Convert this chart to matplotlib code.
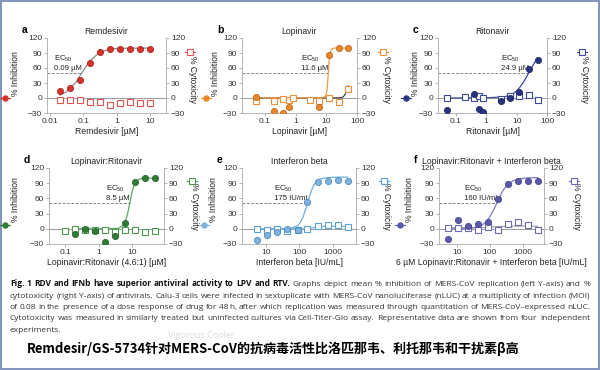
import matplotlib
matplotlib.use('Agg')
import matplotlib.pyplot as plt
from matplotlib.lines import Line2D
from matplotlib.patches import Rectangle
from matplotlib.ticker import FixedLocator, NullLocator

W, H = 600, 370

plt.rcParams['font.family'] = 'Liberation Sans'
plt.rcParams['mathtext.fontset'] = 'custom'
plt.rcParams['mathtext.rm'] = 'Liberation Sans'
plt.rcParams['mathtext.it'] = 'Liberation Sans:italic'

# ---------------- data ----------------
# a  Remdesivir
rdv_conc = [0.0195, 0.039, 0.078, 0.156, 0.3125, 0.625, 1.25, 2.5, 5, 10]
rdv_inh = [15, 21, 37, 71, 93, 98, 99, 99, 99, 99]
rdv_cyt = [-3, -3, -4, -8, -7, -14, -10, -8, -10, -10]
rdv_fit_x = [0.02, 0.03, 0.04, 0.06, 0.08, 0.1, 0.13, 0.17, 0.22, 0.3, 0.4, 0.6, 1, 2, 10]
rdv_fit_y = [6, 12, 19, 32, 45, 55, 66, 76, 83, 90, 94, 97, 99, 99.6, 100]

# b  Lopinavir
lpv_inh_conc = [0.05, 0.2, 0.4, 0.6, 6, 12, 25, 50]
lpv_inh = [2, -25, -29, -18, -17, 86, 100, 100]
lpv_cyt_conc = [0.05, 0.2, 0.4, 0.6, 0.8, 3, 6, 12, 25, 50]
lpv_cyt = [-5, -5, -1, -3, 0, -3, -5, 0, -8, 18]
lpv_fit_x = [0.05, 1, 8, 9.5, 10.5, 11.2, 11.6, 12, 12.8, 14, 16, 20, 50]
lpv_fit_y = [0, 0, 0.5, 4, 15, 35, 50, 64, 83, 95, 99, 100, 100]
lpv_cfit_x = [0.05, 10, 30, 35, 40, 45, 50]
lpv_cfit_y = [0, 0, 0.5, 2, 6, 13, 24]

# c  Ritonavir
rtv_inh_conc = [0.05, 0.4, 0.6, 0.8, 3, 6, 12, 25, 50]
rtv_inh = [-23, 8, -21, -28, -5, 0, 13, 58, 76]
rtv_cyt_conc = [0.05, 0.2, 0.4, 0.6, 0.8, 3, 6, 12, 25, 50]
rtv_cyt = [0, 2, 0, 4, 1, -1, 4, 4, 6, -3]
rtv_fit_x = [0.05, 1, 4, 6, 8, 10, 13, 17, 22, 25, 30, 40, 50]
rtv_fit_y = [0, 0.2, 2.5, 5.5, 9.4, 14, 22, 32, 44, 50, 59, 72, 80]

# d  Lopinavir:Ritonavir
lr_inh_conc = [0.2, 0.4, 0.8, 1.6, 3.1, 6.3, 12.5, 25, 50]
lr_inh = [-10, 0, -5, -26, -15, 12, 92, 101, 101]
lr_cyt_conc = [0.1, 0.2, 0.4, 0.8, 1.6, 3.1, 6.3, 12.5, 25, 50]
lr_cyt = [-5, 0, -3, -3, -3, -6, -2, -2, -6, -5]
lr_fit_x = [0.2, 1, 4, 5.5, 6.5, 7.5, 8.5, 9.5, 10.5, 12, 14, 18, 25, 50]
lr_fit_y = [0, 0, 1, 7, 17, 32, 50, 66, 78, 89, 95, 99, 100, 100]

# e  Interferon beta
ifn_conc = [5.5, 11, 22, 44, 88, 175, 350, 700, 1400, 2800]
ifn_inh = [-23, -12, -6, 0, -2, 53, 92, 94, 96, 94]
ifn_cyt = [0, -2, 0, -4, -2, 0, 5.5, 8, 7.5, 3]
ifn_fit_x = [5.5, 50, 90, 110, 130, 150, 175, 200, 230, 270, 330, 450, 700, 1500, 2800]
ifn_fit_y = [0, 0.3, 6, 14, 24, 36, 51, 63, 75, 86, 94, 99, 101, 102, 102]
ifn_cfit_x = [5.5, 100, 200, 300, 500, 1000, 2800]
ifn_cfit_y = [0, 0, 0.5, 3, 5, 5, 5]

# f  Lopinavir:Ritonavir + Interferon beta
combo_inh = [-21, 17, 5, 9, 14, 58, 89, 94, 94, 94]
combo_cyt = [2, 2, 2, -2, 4, -2, 9.5, 13, 7, -3]
combo_fit_x = [5.5, 20, 40, 60, 80, 100, 130, 160, 200, 250, 350, 500, 800, 1500, 2800]
combo_fit_y = [0, 0.5, 3, 8, 15, 24, 38, 50, 64, 76, 88, 95, 99, 100.5, 101]
combo_cfit_x = [5.5, 20, 80, 200, 600, 1500, 2800]
combo_cfit_y = [2, 2.2, 3, 4.5, 5.5, 5.5, 5]

y_ticks = [-30, 0, 30, 60, 90, 120]
ticks_um_a = [0.01, 0.1, 1, 10]
labels_um_a = ['0.01', '0.1', '1', '10']
ticks_um = [0.1, 1, 10, 100]
labels_um = ['0.1', '1', '10', '100']
ticks_iu = [10, 100, 1000]
labels_iu = ['10', '100', '1000']

caption_lines = [
    [("Fig. 1 RDV and IFNb have superior antiviral activity to LPV and RTV.", 'bold'),
     ("Graphs depict mean % inhibition of MERS-CoV replication (left Y-axis) and %", 'normal')],
    [("cytotoxicity (right Y-axis) of antivirals. Calu-3 cells were infected in sextuplicate with "
      "MERS-CoV nanoluciferase (nLUC) at a multiplicity of infection (MOI)", 'normal')],
    [("of 0.08 in the presence of a dose response of drug for 48\u2009h, after which replication "
      "was measured through quantitation of MERS-CoV\u2013expressed nLUC.", 'normal')],
    [("Cytotoxicity was measured in similarly treated but uninfected cultures via Cell-Titer-Glo "
      "assay. Representative data are shown from four independent", 'normal')],
    [("experiments.", 'normal')],
]
caption_y = [284, 296, 307.5, 319, 331]

headline = "Remdesir/GS-5734针对MERS-CoV的抗病毒活性比洛匹那韦、利托那韦和干扰素β高"


def fx(x):
    return x / W


def fy(y):
    return 1 - y / H


fig = plt.figure(figsize=(6, 3.7), dpi=100, facecolor='white')


def legend_mark(x, y, color, marker, filled):
    # small "-o-" symbol drawn next to the axis titles
    face = color if filled else 'white'
    fig.add_artist(Line2D([fx(x - 5), fx(x), fx(x + 5)], [fy(y)] * 3, transform=fig.transFigure,
                          color=color, lw=0.8, marker=marker, markevery=[1], markersize=3.8,
                          markerfacecolor=face, markeredgecolor=color, markeredgewidth=0.8))


def panel(box, letter, title, xlabel, xlim, xticks, xlabels,
          inh_x, inh_y, cyt_x, cyt_y, fit_x, fit_y, ec50, ec_text,
          col, edge, sq, fitcol, labl, labr, row, cfit=None, cfitcol='#999999'):
    x0, y0, x1, y1 = box
    ax = fig.add_axes([fx(x0), fy(y1), (x1 - x0) / W, (y1 - y0) / H])
    ax.set_xscale('log')
    ax.set_xlim(*xlim)
    ax.set_ylim(-30, 120)
    ax.xaxis.set_major_locator(FixedLocator(xticks))
    ax.xaxis.set_minor_locator(NullLocator())
    ax.set_xticklabels(xlabels)
    ax.set_yticks(y_ticks)
    ax.yaxis.set_ticks_position('both')
    ax.tick_params(labelright=True, labelsize=6, length=2, width=0.5, pad=1.5,
                   color='#999999', labelcolor='#333333')
    ax.spines['top'].set_visible(False)
    for s in ('left', 'right', 'bottom'):
        ax.spines[s].set_color('#aaaaaa')
        ax.spines[s].set_linewidth(0.6)

    ax.axhline(0, color='#9a9a9a', lw=0.7, zorder=1)
    ax.plot([xlim[0], ec50], [50, 50], ls=(0, (3, 1.5)), color='#888888', lw=0.7, zorder=1)
    if cfit is not None:
        ax.plot(cfit[0], cfit[1], color=cfitcol, lw=0.8, zorder=2)
    ax.plot(fit_x, fit_y, color=fitcol, lw=0.9, zorder=3)
    ax.plot(cyt_x, cyt_y, ls='none', marker='s', ms=4.0, mfc='white', mec=sq, mew=0.8, zorder=4)
    ax.plot(inh_x, inh_y, ls='none', marker='o', ms=4.5, mfc=col, mec=edge, mew=0.5, zorder=5)

    ax.text(ec50, 53, ec_text, ha='right', va='bottom', fontsize=5.6, linespacing=1.15,
            multialignment='left', color='#222222')
    ax.set_title(title, fontsize=6.2, pad=3, color='#222222')
    ax.set_xlabel(xlabel, fontsize=6.2, labelpad=1.5, color='#222222')
    fig.text(fx(x0 - 25), fy(y0 - 8), letter, fontsize=7.5, fontweight='bold', ha='left', va='center')

    ly, lm, ry, rm = (74, 98, 79, 52) if row == 1 else (200, 225, 207, 181)
    fig.text(fx(labl), fy(ly), '% Inhibition', rotation=90, ha='center', va='center',
             fontsize=6.2, color='#222222')
    legend_mark(labl - 10, lm, col, 'o', True)
    fig.text(fx(labr), fy(ry), '% Cytoxicity', rotation=270, ha='center', va='center',
             fontsize=6.2, color='#222222')
    legend_mark(labr - 3, rm, sq, 's', False)
    return ax


ec = 'EC$_{50}$\n'

panel((47, 38, 166, 113), 'a', 'Remdesivir', 'Remdesivir [µM]', (0.008, 31), ticks_um_a, labels_um_a,
      rdv_conc, rdv_inh, rdv_conc, rdv_cyt, rdv_fit_x, rdv_fit_y, 0.09, ec + '0.09 µM',
      '#d9322b', '#a01c18', '#e0554f', '#8a8a8a', 15, 193, 1)

panel((242, 38, 357, 113), 'b', 'Lopinavir', 'Lopinavir [µM]', (0.018, 100), ticks_um, labels_um,
      lpv_inh_conc, lpv_inh, lpv_cyt_conc, lpv_cyt, lpv_fit_x, lpv_fit_y, 11.6, ec + '11.6 µM',
      '#e9862a', '#b45f12', '#ec8f3a', '#ee9a45', 216, 386, 1,
      cfit=(lpv_cfit_x, lpv_cfit_y), cfitcol='#333333')

panel((438, 38, 547, 113), 'c', 'Ritonavir', 'Ritonavir [µM]', (0.026, 100), ticks_um, labels_um,
      rtv_inh_conc, rtv_inh, rtv_cyt_conc, rtv_cyt, rtv_fit_x, rtv_fit_y, 24.9, ec + '24.9 µM',
      '#27337f', '#1b235e', '#3a4a9a', '#3b4a9c', 416, 585, 1)

panel((49, 168, 164, 244), 'd', 'Lopinavir:Ritonavir', 'Lopinavir:Ritonavir (4.6:1) [µM]',
      (0.033, 90), ticks_um, labels_um,
      lr_inh_conc, lr_inh, lr_cyt_conc, lr_cyt, lr_fit_x, lr_fit_y, 8.5, ec + '8.5 µM',
      '#2f7d35', '#1f5a25', '#4a9a4f', '#5aa85f', 15, 195, 2)

panel((242, 168, 356, 244), 'e', 'Interferon beta', 'Interferon beta [IU/mL]',
      (1.9, 5000), ticks_iu, labels_iu,
      ifn_conc, ifn_inh, ifn_conc, ifn_cyt, ifn_fit_x, ifn_fit_y, 175, ec + '175 IU/ml',
      '#7fb3de', '#3f7fb8', '#5aa0d2', '#6fb0e0', 214, 387, 2,
      cfit=(ifn_cfit_x, ifn_cfit_y), cfitcol='#6fb0e0')

panel((439, 168, 544, 244), 'f', 'Lopinavir:Ritonavir + Interferon beta',
      '6 µM Lopinavir:Ritonavir + Interferon beta [IU/mL]',
      (2.9, 4300), ticks_iu, labels_iu,
      ifn_conc, combo_inh, ifn_conc, combo_cyt, combo_fit_x, combo_fit_y, 160, ec + '160 IU/ml',
      '#5a58a8', '#3b3985', '#6b69b8', '#7d7bc4', 410, 577, 2,
      cfit=(combo_cfit_x, combo_cfit_y), cfitcol='#999999')

# ---------------- caption, justified word by word ----------------
renderer = fig.canvas.get_renderer()
base = 6.3
line_words = []
for segs in caption_lines:
    words = []
    for txt, wt in segs:
        words += [(w, wt) for w in txt.split(' ')]
    line_words.append(words)

# pick one size at which every justified line still has a normal word space
sizes = []
for words in line_words[:-1]:
    tot = 0
    for w, wt in words:
        t = fig.text(0, 0, w, fontsize=base, fontweight=wt, family='Open Sans')
        tot += t.get_window_extent(renderer).width
        t.remove()
    per_pt = tot / base
    sizes.append(580 / (per_pt + (len(words) - 1) * 0.30))
cap_size = min(sizes)

for words, ypx in zip(line_words, caption_y):
    arts, widths = [], []
    for w, wt in words:
        t = fig.text(0, fy(ypx), w, fontsize=cap_size, fontweight=wt, family='Open Sans',
                     ha='left', va='center', color='#111111' if wt == 'bold' else '#333333')
        arts.append(t)
        widths.append(t.get_window_extent(renderer).width)
    if len(words) > 3:
        gap = (580 - sum(widths)) / (len(words) - 1)
    else:
        gap = cap_size * 0.30
    x = 10
    for t, wd in zip(arts, widths):
        t.set_x(fx(x))
        x += wd + gap

fig.text(fx(168), fy(335.5), 'Vigorous Cooler', fontsize=6.5, color='#dcdcdc',
         family='Open Sans', ha='left', va='center')

fig.text(fx(27), fy(349), headline, fontsize=9.4, fontweight='bold',
         family=['Noto Sans CJK SC', 'DejaVu Sans'], ha='left', va='center', color='black')

# page frame
fig.add_artist(Rectangle((0, 0), 1, 1, transform=fig.transFigure, fill=False,
                         edgecolor='#8495bd', linewidth=2.9))

fig.savefig('out.png', dpi=100, facecolor='white')
